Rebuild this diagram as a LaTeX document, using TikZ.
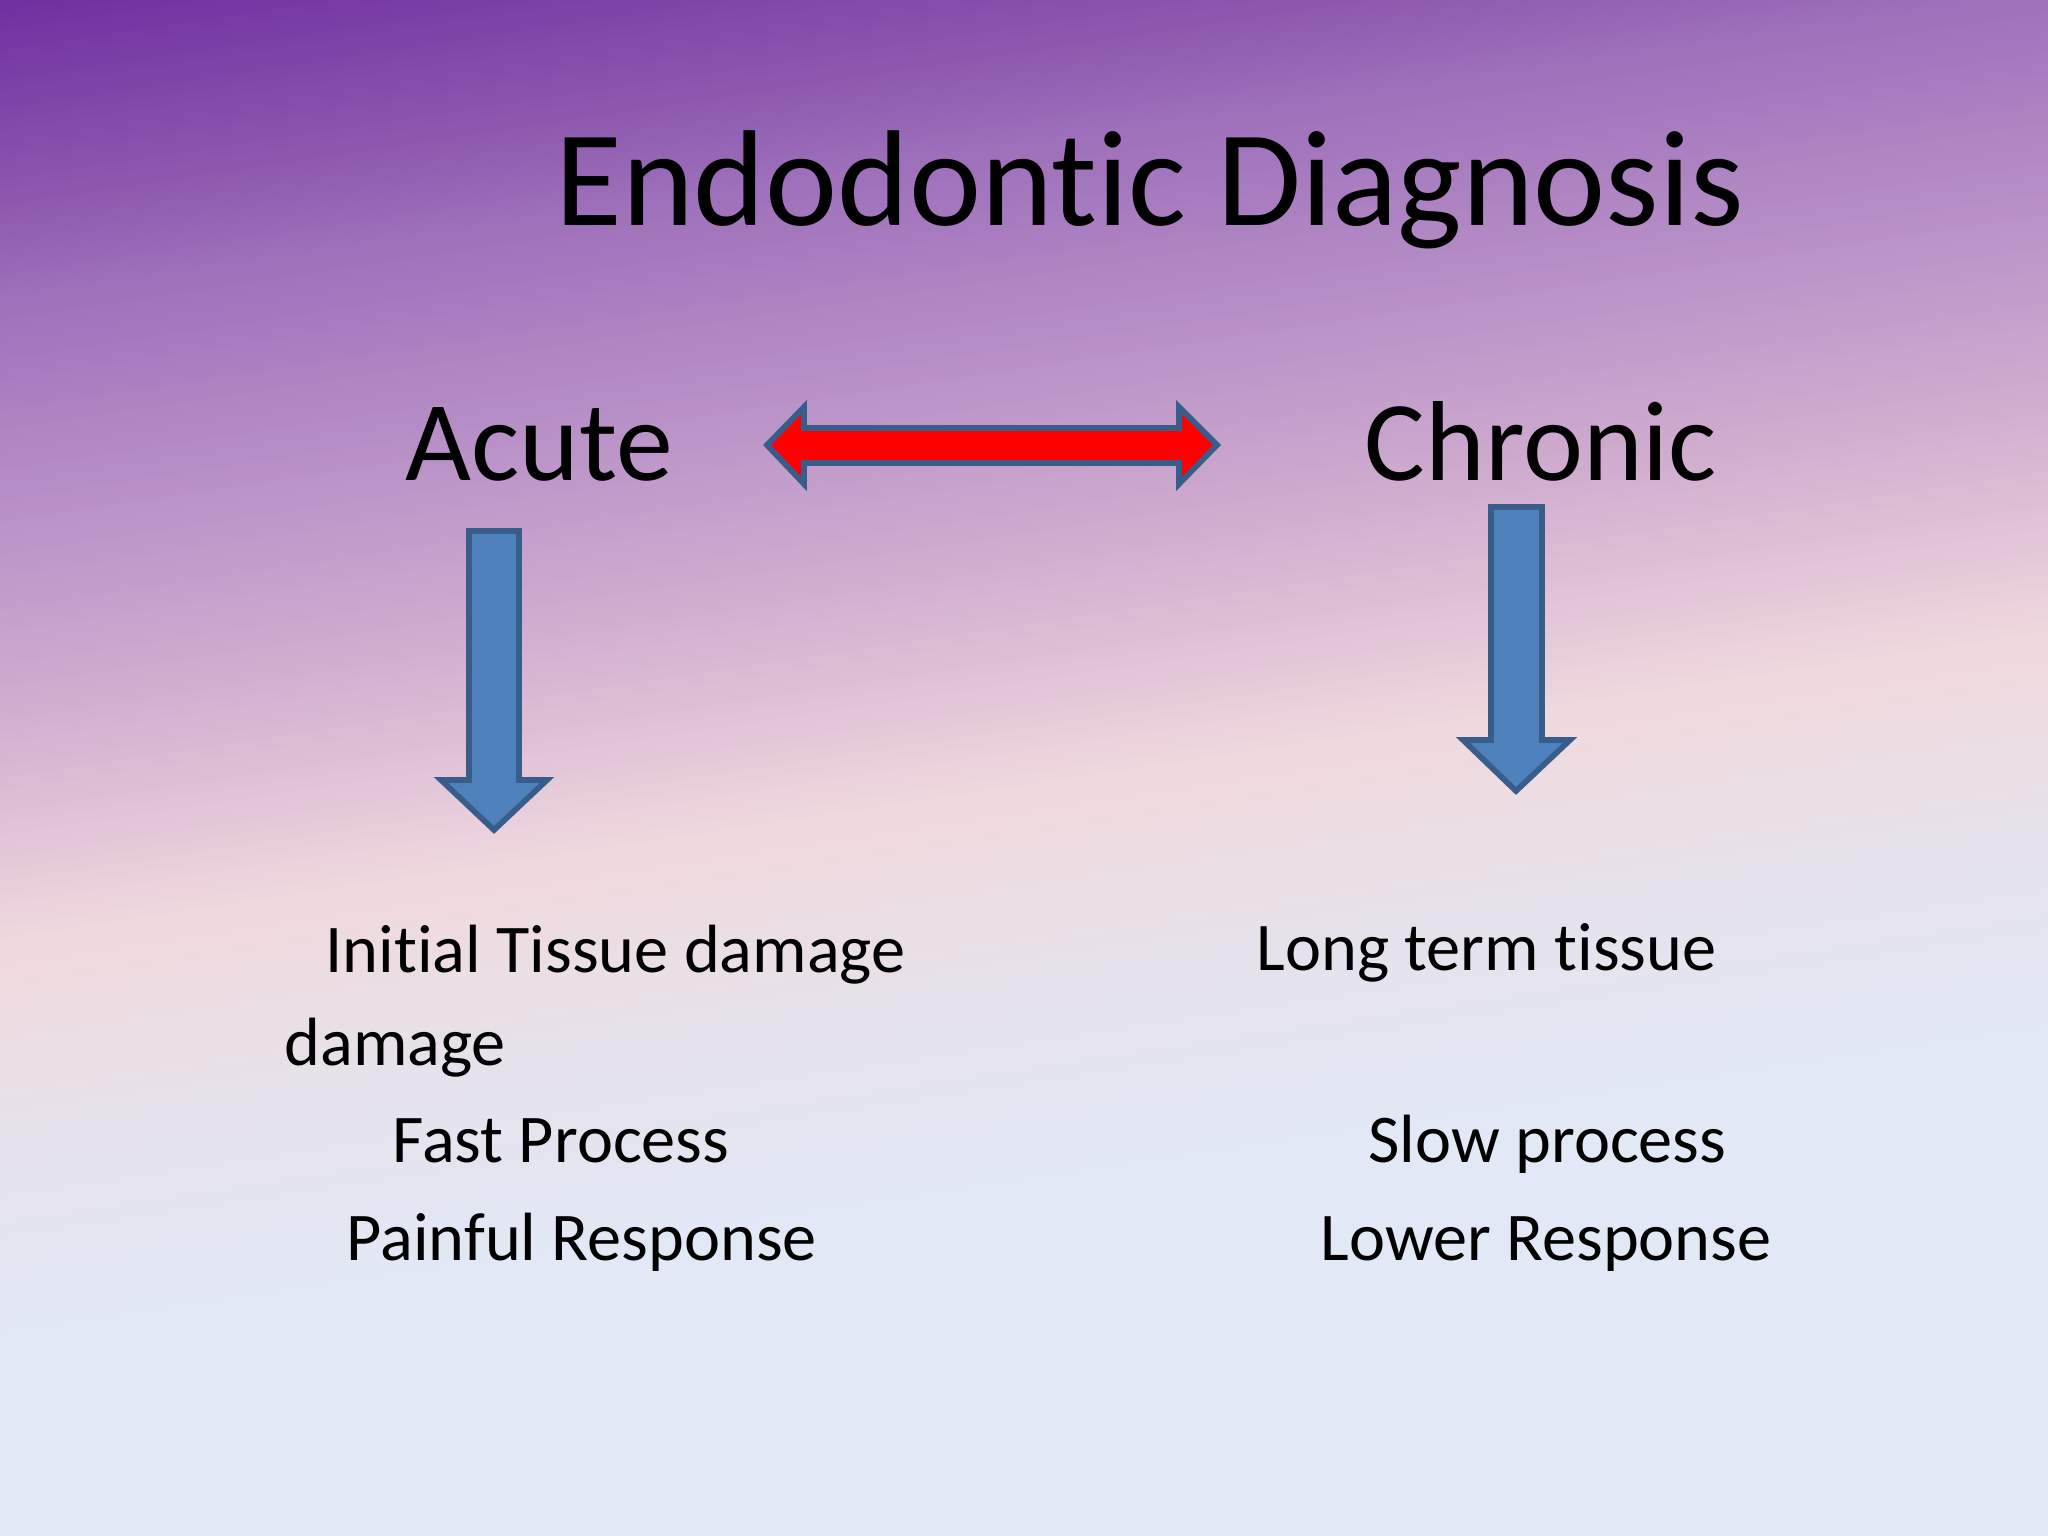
\documentclass[tikz,border=0pt]{standalone}
\usepackage{fontspec}
\setmainfont{Carlito}[Ligatures=NoCommon]
\usepackage{xcolor}

\definecolor{bgA}{RGB}{112,48,160}
\definecolor{bgB}{RGB}{140,88,175}
\definecolor{bgC}{RGB}{158,112,186}
\definecolor{bgD}{RGB}{183,143,199}
\definecolor{bgE}{RGB}{210,175,208}
\definecolor{bgF}{RGB}{240,218,222}
\definecolor{bgG}{RGB}{230,226,236}
\definecolor{bgH}{RGB}{226,232,246}
\definecolor{arrowblue}{RGB}{79,129,189}
\definecolor{arrowline}{RGB}{56,93,138}

\begin{document}
\begin{tikzpicture}[
  x=0.3515625pt, y=-0.3515625pt,
  title/.style={anchor=base, inner sep=0pt, font=\fontsize{48}{58}\selectfont},
  head/.style={anchor=base, inner sep=0pt, font=\fontsize{40}{48}\selectfont},
  item/.style={anchor=base west, inner sep=0pt, font=\fontsize{24}{29}\selectfont},
  blockarr/.style={draw=arrowline, line width=2pt, line join=miter}
]
\useasboundingbox (0,0) rectangle (2048,1536);

% slide background
\begin{scope}
\clip (0,0) rectangle (2048,1536);
\foreach \sa/\sb/\ca/\cb in {0/200/bgA/bgB, 200/300/bgB/bgC, 300/500/bgC/bgD, 500/720/bgD/bgE, 720/950/bgE/bgF, 950/1150/bgF/bgG, 1150/1350/bgG/bgH}{
  \foreach \i in {0,...,19}{
    \pgfmathsetmacro\lo{\sa+(\sb-\sa)*\i/20}
    \pgfmathsetmacro\hi{\lo+(\sb-\sa)/20+3}
    \pgfmathtruncatemacro\pc{5*\i+2}
    \fill[\cb!\pc!\ca] (0,\lo) -- (2048,\lo-307) -- (2048,\hi-307) -- (0,\hi) -- cycle;
  }
}
\fill[bgH] (0,1350) -- (2048,1043) -- (2048,1536) -- (0,1536) -- cycle;
\end{scope}

\node[title] (title) at (1150,226) {Endodontic Diagnosis};
\node[head] (acute) at (539,481) {Acute};
\node[head] (chronic) at (1541,481) {Chronic};

\draw[blockarr, fill=red] (767,445) -- (804,407) -- (804,428) -- (1179,428) -- (1179,407)
  -- (1217,445) -- (1179,484) -- (1179,463) -- (804,463) -- (804,484) -- cycle;
\draw[blockarr, fill=arrowblue] (469,531) -- (519,531) -- (519,780) -- (547,780) -- (494,830)
  -- (441,780) -- (469,780) -- cycle;
\draw[blockarr, fill=arrowblue] (1491,507) -- (1542,507) -- (1542,740) -- (1570,740) -- (1516,791)
  -- (1463,740) -- (1491,740) -- cycle;

\node[item] (acute1) at (325,972) {Initial Tissue damage};
\node[item] (acute2) at (284,1065) {damage};
\node[item] (acute3) at (392,1162) {Fast Process};
\node[item] (acute4) at (346,1260) {Painful Response};
\node[item] (chronic1) at (1256,970) {Long term tissue};
\node[item] (chronic2) at (1368,1162) {Slow process};
\node[item] (chronic3) at (1320,1260) {Lower Response};
\end{tikzpicture}
\end{document}
